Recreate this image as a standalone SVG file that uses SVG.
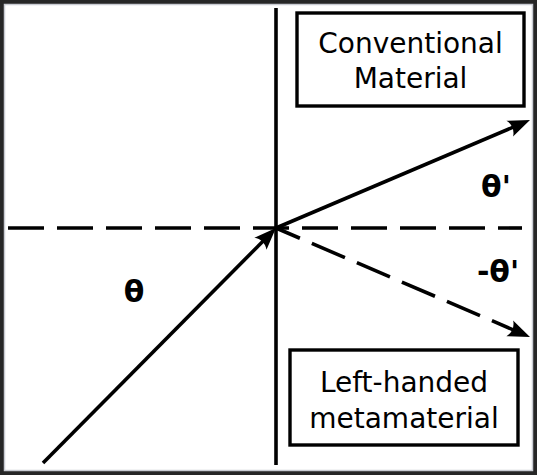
<svg xmlns="http://www.w3.org/2000/svg" width="537" height="475" viewBox="0 0 537 475">
<style>
.ln{stroke:#000;stroke-width:3.6;fill:none}
.dash{stroke-dasharray:36 13}
.box{fill:#fff;stroke:#000;stroke-width:3.4}
.lbl{font-family:"DejaVu Sans",sans-serif;font-size:28px;fill:#000;text-anchor:middle}
.ang{font-family:"DejaVu Sans",sans-serif;font-size:30px;font-weight:bold;fill:#000;text-anchor:middle}
</style>
<defs>
<marker id="ah" markerUnits="userSpaceOnUse" viewBox="-24 -10 26 20" refX="-10" refY="0" markerWidth="26" markerHeight="20" orient="auto">
<path d="M0,0 L-22,-8.5 C-18.2,-3.4 -18.2,3.4 -22,8.5 Z" fill="#000"/>
</marker>
</defs>
<rect x="0" y="0" width="537" height="475" fill="#262626"/>
<rect x="4.5" y="4.5" width="528" height="466" fill="#fff" stroke="#c9ccd3" stroke-width="1.5"/>
<g id="connectors">
<line class="ln" x1="276" y1="8" x2="276" y2="465"/>
<line class="ln dash" x1="8" y1="228" x2="522" y2="228"/>
<line class="ln" x1="43" y1="463" x2="268.9" y2="235.2" marker-end="url(#ah)"/>
<line class="ln" x1="276" y1="228" x2="520.8" y2="123.9" marker-end="url(#ah)"/>
<line class="ln dash" x1="276" y1="228" x2="520.8" y2="333.1" stroke-dashoffset="10" marker-end="url(#ah)"/>
</g>
<g id="conventional">
<rect class="box" x="297" y="13" width="227" height="93"/>
<text class="lbl" x="410.5" y="53">Conventional</text>
<text class="lbl" x="410.5" y="88">Material</text>
</g>
<g id="lefthanded">
<rect class="box" x="290" y="350" width="228" height="95"/>
<text class="lbl" x="404" y="392">Left-handed</text>
<text class="lbl" x="404" y="428">metamaterial</text>
</g>
<g id="theta"><text class="ang" x="134" y="302">θ</text></g>
<g id="thetaprime"><text class="ang" x="496" y="197">θ'</text></g>
<g id="negthetaprime"><text class="ang" x="498" y="282">-θ'</text></g>
</svg>
